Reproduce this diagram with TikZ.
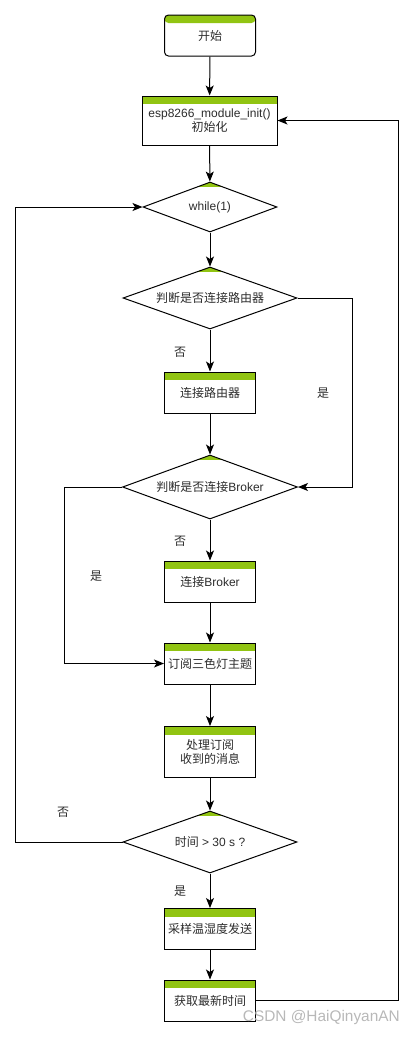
\documentclass[tikz,border=0pt]{standalone}
\usepackage{fontspec}
\setmainfont{Liberation Sans}
\newfontfamily\cjk{Noto Sans CJK SC}
\usetikzlibrary{shapes.geometric,arrows.meta}
\definecolor{band}{RGB}{145,196,18}
\definecolor{txt}{RGB}{45,45,45}
\tikzset{
  every node/.style={font=\fontsize{12pt}{15pt}\selectfont, text=txt},
  proc/.style={draw, line width=1pt, fill=white, minimum width=91pt, minimum height=41pt, inner sep=0pt, align=center,
    path picture={\fill[band] (path picture bounding box.north west) rectangle ([yshift=-8pt]path picture bounding box.north east);}},
  startbox/.style={proc, rounded corners=4pt},
  dec/.style={draw, line width=1pt, fill=white, diamond, aspect=3, inner sep=0pt, align=center,
    path picture={\fill[band] (path picture bounding box.north west) rectangle ([yshift=-5pt]path picture bounding box.north east);}},
  flow/.style={line width=1pt, -{Stealth[length=10pt,width=8pt,inset=2.5pt]}},
  lbl/.style={font=\fontsize{12pt}{14pt}\selectfont\cjk},
}
\begin{document}
\begin{tikzpicture}[x=1pt,y=-1pt]
\useasboundingbox (0,0) rectangle (414,1037);
\node[startbox] (start) at (210,35.5) {\cjk 开始};
\node[proc, minimum width=135pt, minimum height=49pt] (init) at (209.5,120.5) {esp8266\_module\_init()\\[-1pt] \cjk 初始化};
\node[dec, minimum width=134pt, minimum height=50pt] (wh) at (210,207) {while(1)};
\node[dec, minimum width=174pt, minimum height=62pt] (d2) at (210,298) {\cjk 判断是否连接路由器};
\node[proc] (router) at (210,392.5) {\cjk 连接路由器};
\node[dec, minimum width=175pt, minimum height=64pt] (d3) at (210,487) {\cjk 判断是否连接{\rmfamily Broker}};
\node[proc] (broker) at (210,581.5) {{\cjk 连接}Broker};
\node[proc] (sub) at (210,663.5) {\cjk 订阅三色灯主题};
\node[proc, minimum height=51pt] (handle) at (210,752) {\cjk 处理订阅\\[-1pt]\cjk 收到的消息};
\node[dec, minimum width=174pt, minimum height=62pt] (d4) at (210,842) {{\cjk 时间} \textgreater{} 30 s ?};
\node[proc] (sample) at (210,929) {\cjk 采样温湿度发送};
\node[proc] (gettime) at (210,1000.5) {\cjk 获取最新时间};

\coordinate (r1) at (398,1000.5);
\coordinate (r2) at (398,120.5);
\coordinate (l1) at (15,842);
\coordinate (l2) at (15,207);
\coordinate (a1) at (352,298);
\coordinate (a2) at (352,487);
\coordinate (b1) at (64,487);
\coordinate (b2) at (64,663.5);

\draw[flow] (start) -- (init);
\draw[flow] (init) -- (wh);
\draw[flow] (wh) -- (d2);
\draw[flow] (d2) -- (router);
\draw[flow] (router) -- (d3);
\draw[flow] (d3) -- (broker);
\draw[flow] (broker) -- (sub);
\draw[flow] (sub) -- (handle);
\draw[flow] (handle) -- (d4);
\draw[flow] (d4) -- (sample);
\draw[flow] (sample) -- (gettime);
\draw[flow] (gettime.east) -- (r1) -- (r2) -- (init.east);
\draw[flow] (d4.west) -- (l1) -- (l2) -- (wh.west);
\draw[flow] (d2.east) -- (a1) -- (a2) -- (d3.east);
\draw[flow] (d3.west) -- (b1) -- (b2) -- (sub.west);

\node[lbl] (n1) at (180,352) {否};
\node[lbl] (y1) at (323,393) {是};
\node[lbl] (n2) at (180,541) {否};
\node[lbl] (y2) at (96,576) {是};
\node[lbl] (n3) at (63,812) {否};
\node[lbl] (y3) at (180,891) {是};
\node[font=\fontsize{15.4pt}{18pt}\selectfont, text=black!28, anchor=east, inner sep=0pt] (wm) at (400,1018) {CSDN @HaiQinyanAN};
\end{tikzpicture}
\end{document}
